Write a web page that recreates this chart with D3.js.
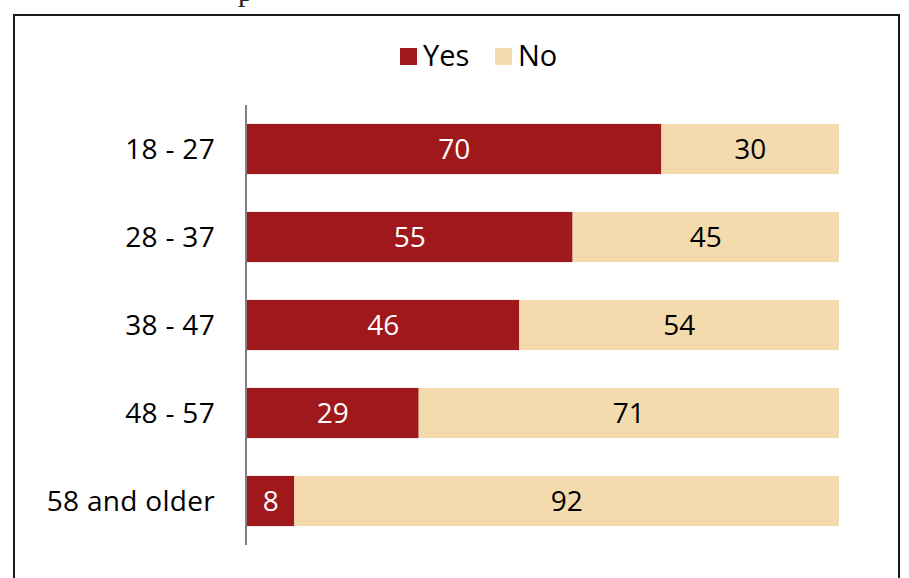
<!DOCTYPE html>
<html>
<head>
<meta charset="utf-8">
<script src="https://cdn.jsdelivr.net/npm/d3@7"></script>
<style>
  html, body { margin: 0; padding: 0; background: #fff; }
  svg { display: block; }
</style>
</head>
<body>
<div id="chart"></div>
<script>
// age groups and answers (percent)
const groups = ["18 - 27", "28 - 37", "38 - 47", "48 - 57", "58 and older"];
const yesVals = [70, 55, 46, 29, 8];
const noVals = [30, 45, 54, 71, 92];
const seriesNames = ["Yes", "No"];
const seriesColors = ["#9e181c", "#f3dbad"];
const labelColors = ["#ffffff", "#000000"];

const width = 909, height = 578;
const font = "'Open Sans', sans-serif";

const svg = d3.select("#chart")
  .append("svg")
  .attr("width", width)
  .attr("height", height);

// frame of the chart box (runs past the bottom of the picture)
svg.append("rect")
  .attr("x", 14).attr("y", 15)
  .attr("width", 885).attr("height", 600)
  .attr("fill", "none")
  .attr("stroke", "#1a1a1a")
  .attr("stroke-width", 2);

// cropped bit of the title above the box
svg.append("text")
  .attr("x", 238).attr("y", 1)
  .style("font", "30px 'Liberation Serif', serif")
  .attr("fill", "#222")
  .text("p");

let x = d3.scaleLinear().domain([0, 100]).range([247, 839]);
let y = d3.scaleBand().domain(groups).range([105, 545])
  .paddingInner(0.43).paddingOuter(0.215);

// stack the two series
let rows = groups.map((g, i) => ({ group: g, Yes: yesVals[i], No: noVals[i] }));
let stack = d3.stack().keys(seriesNames)(rows);

let layer = svg.selectAll("g.layer")
  .data(stack)
  .join("g")
  .attr("class", "layer")
  .attr("fill", (d, i) => seriesColors[i]);

layer.selectAll("rect")
  .data(d => d)
  .join("rect")
  .attr("x", d => x(d[0]))
  .attr("y", d => y(d.data.group))
  .attr("width", d => x(d[1]) - x(d[0]))
  .attr("height", y.bandwidth());

// value labels
stack.forEach((s, si) => {
  svg.append("g").selectAll("text")
    .data(s)
    .join("text")
    .attr("x", d => (x(d[0]) + x(d[1])) / 2)
    .attr("y", d => y(d.data.group) + y.bandwidth() / 2)
    .attr("dy", "0.36em")
    .attr("text-anchor", "middle")
    .attr("fill", labelColors[si])
    .style("font", "28px " + font)
    .text(d => d[1] - d[0]);
});

// category axis
let yAxis = svg.append("g")
  .attr("transform", "translate(246,0)")
  .call(d3.axisLeft(y).tickSize(0).tickPadding(31));
yAxis.select(".domain")
  .attr("d", "M0,105V545")
  .attr("stroke", "#808080")
  .attr("stroke-width", 2);
yAxis.selectAll("text")
  .attr("fill", "#000")
  .attr("dy", "0.36em")
  .style("font", "28px " + font)
  .style("letter-spacing", "0.3px");

// legend
let legendX = [400, 495];
let legend = svg.append("g").selectAll("g")
  .data(seriesNames)
  .join("g")
  .attr("transform", (d, i) => `translate(${legendX[i]},48)`);
legend.append("rect")
  .attr("width", 17).attr("height", 17)
  .attr("fill", (d, i) => seriesColors[i]);
legend.append("text")
  .attr("x", 23).attr("y", 18)
  .attr("fill", "#000")
  .style("font", "29px " + font)
  .text(d => d);
</script>
</body>
</html>
